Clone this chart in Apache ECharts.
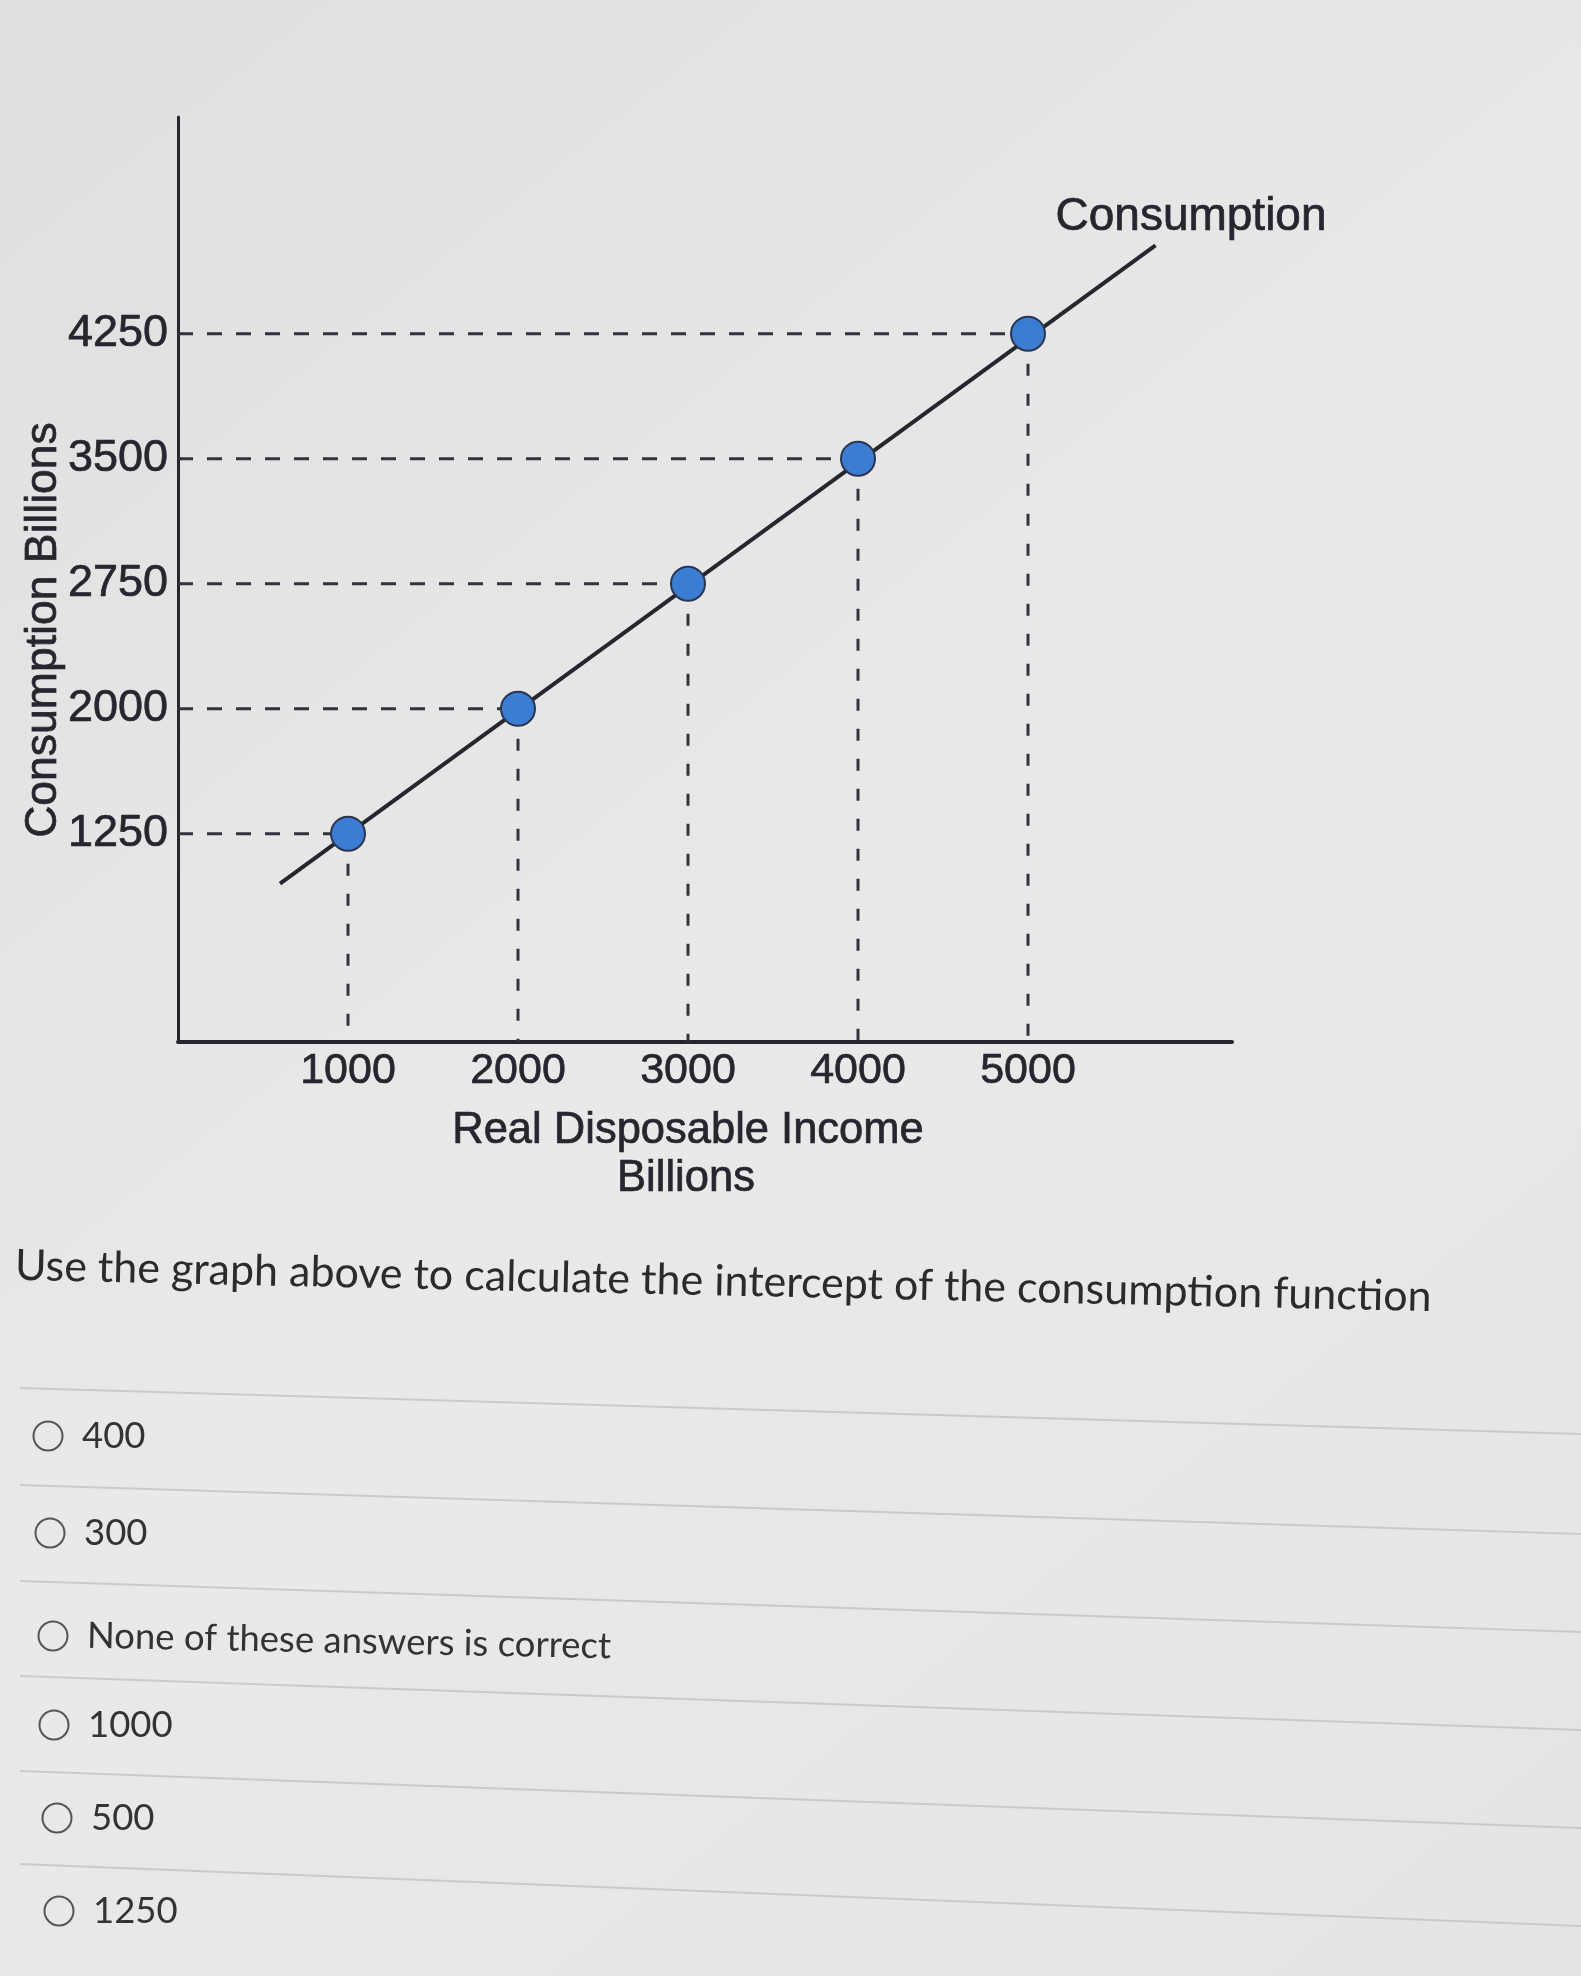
<!DOCTYPE html>
<html>
<head>
<meta charset="utf-8">
<script src="https://cdn.jsdelivr.net/npm/echarts@6/dist/echarts.min.js"></script>
<style>
html,body{margin:0;padding:0;background:#e6e6e6;}
#chart{width:1581px;height:1976px;}
</style>
</head>
<body>
<div id="chart"></div>
<script>
// Data
var incomeValues = [1000, 2000, 3000, 4000, 5000];
var consumptionValues = [1250, 2000, 2750, 3500, 4250];
var consumptionLineX = [600, 5750];
var consumptionLineY = [950, 4780];
var xTickLabels = [1000, 2000, 3000, 4000, 5000];
var yTickLabels = [1250, 2000, 2750, 3500, 4250];
var questionText = 'Use the graph above to calculate the intercept of the consumption function';
var answerOptions = ['400', '300', 'None of these answers is correct', '1000', '500', '1250'];

var chart = echarts.init(document.getElementById('chart'));
var dark = '#26262e';
var font = 'Liberation Sans, Arial, sans-serif';
var thick = { textBorderColor: dark, textBorderWidth: 0.7 };

var points = incomeValues.map(function (x, i) { return [x, consumptionValues[i]]; });
var lineData = consumptionLineX.map(function (x, i) { return [x, consumptionLineY[i]]; });

var series = [];
points.forEach(function (p) {
  series.push({
    type: 'line',
    data: [[0, p[1]], [p[0], p[1]]],
    symbol: 'none', silent: true, z: 2,
    lineStyle: { color: '#33333d', width: 3, type: [15, 14] }
  });
  series.push({
    type: 'line',
    data: [[p[0], p[1]], [p[0], 0]],
    symbol: 'none', silent: true, z: 2,
    lineStyle: { color: '#33333d', width: 3, type: [12, 18] }
  });
});
series.push({
  type: 'line',
  data: lineData,
  symbol: 'none',
  z: 3,
  lineStyle: { color: dark, width: 4 },
  endLabel: Object.assign({
    show: true,
    formatter: 'Consumption',
    color: dark,
    fontFamily: font,
    fontSize: 46,
    offset: [-108, -28]
  }, thick)
});
series.push({
  type: 'scatter',
  data: points,
  symbolSize: 34,
  z: 5,
  itemStyle: { color: '#3b7dd3', opacity: 1, borderColor: '#2b3550', borderWidth: 2 }
});

// Answer option graphics
var optY = [1436, 1533, 1636, 1725, 1818, 1911];
var optX = [48, 50, 53, 54, 57, 59];
var sepY0 = [1388, 1485, 1581, 1676, 1771, 1864];
var sepY1 = [1434, 1534, 1632, 1730, 1828, 1926];
var graphics = [];
sepY0.forEach(function (y, i) {
  graphics.push({
    type: 'line', shape: { x1: 20, y1: y, x2: 1581, y2: sepY1[i] },
    style: { stroke: '#c9cbcb', lineWidth: 2 }
  });
});
answerOptions.forEach(function (t, i) {
  graphics.push({
    type: 'circle', shape: { cx: optX[i], cy: optY[i], r: 14.5 },
    style: { fill: 'none', stroke: '#555', lineWidth: 2 }
  });
  graphics.push({
    type: 'text', x: optX[i] + 34, y: optY[i], rotation: i === 2 ? -0.02 : 0,
    style: { text: t, fill: '#333', font: '36.5px Lato, sans-serif', textVerticalAlign: 'middle' }
  });
});
graphics.push({
  type: 'text', x: 15, y: 1266, rotation: -0.022,
  style: { text: questionText, fill: '#2b2b2b', font: '43px Lato, sans-serif', textVerticalAlign: 'middle' }
});
graphics.push({
  type: 'text', x: 44, y: 630, rotation: Math.PI / 2,
  style: { text: 'Consumption Billions', fill: dark, font: '44.5px ' + font, textAlign: 'center', textVerticalAlign: 'middle', stroke: dark, lineWidth: 0.7 }
});
graphics.push({
  type: 'text', x: 688, y: 1131,
  style: { text: 'Real Disposable Income', fill: dark, font: '43.5px ' + font, textAlign: 'center', textVerticalAlign: 'middle', stroke: dark, lineWidth: 0.7 }
});
graphics.push({
  type: 'text', x: 686, y: 1179,
  style: { text: 'Billions', fill: dark, font: '43.5px ' + font, textAlign: 'center', textVerticalAlign: 'middle', stroke: dark, lineWidth: 0.7 }
});

chart.setOption({
  backgroundColor: {
    type: 'linear', x: 0, y: 0, x2: 1, y2: 1,
    colorStops: [{ offset: 0, color: '#dfdfdf' }, { offset: 0.5, color: '#e9e9e9' }, { offset: 1, color: '#e3e5e5' }]
  },
  animation: false,
  grid: { left: 178, right: 349, top: 117, bottom: 934, containLabel: false },
  xAxis: {
    type: 'value', min: 0, max: 6200,
    axisLine: { show: true, lineStyle: { color: dark, width: 4 } },
    axisTick: { show: false },
    splitLine: { show: false },
    axisLabel: Object.assign({
      color: dark, fontFamily: font, fontSize: 43, margin: 8,
      customValues: xTickLabels,
      formatter: function (v) { return xTickLabels.indexOf(v) >= 0 ? String(v) : ''; }
    }, thick)
  },
  yAxis: {
    type: 'value', min: 0, max: 5550,
    axisLine: { show: true, lineStyle: { color: dark, width: 3 } },
    axisTick: { show: true, inside: true, length: 8, customValues: yTickLabels, lineStyle: { color: dark, width: 2 } },
    splitLine: { show: false },
    axisLabel: Object.assign({
      color: dark, fontFamily: font, fontSize: 45, margin: 10,
      customValues: yTickLabels,
      formatter: function (v) { return yTickLabels.indexOf(v) >= 0 ? String(v) : ''; }
    }, thick)
  },
  series: series,
  graphic: graphics
});
</script>
</body>
</html>
